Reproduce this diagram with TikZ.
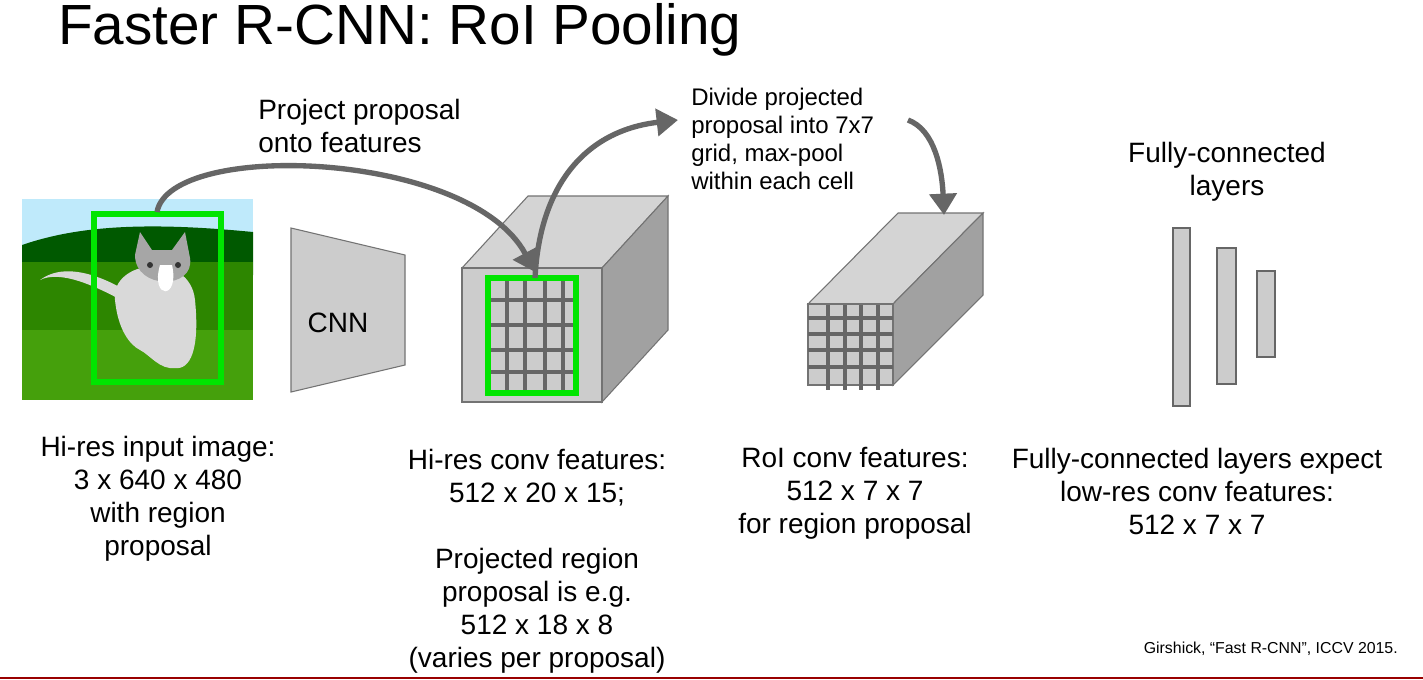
\documentclass[tikz,border=0pt]{standalone}
\usepackage{fontspec}
\setmainfont{Liberation Sans}
\usetikzlibrary{arrows.meta}
\begin{document}
\begin{tikzpicture}[x=0.75pt,y=-0.75pt,
  face/.style={draw=black!55,line width=0.8pt},
  arr/.style={draw=black!60,line width=4pt,-{Triangle[length=16pt,width=20pt]}},
  grid/.style={draw=black!60,line width=3pt},
  txt/.style={font=\fontsize{21}{24.7}\selectfont,align=center,inner sep=0pt},
  gbox/.style={draw=green!90!black,line width=4.5pt,inner sep=0pt},
  bar/.style={draw=black!60,fill=black!20,line width=0.8pt}]
\useasboundingbox (0,0) rectangle (1423,679);
\fill[white] (0,0) rectangle (1423,679);
\draw[red!60!black,line width=1pt] (0,678) -- (1423,678);
\node[anchor=west,inner sep=0pt,font=\fontsize{42.5}{48}\selectfont] (title) at (58,30) {Faster R-CNN: RoI Pooling};
% cat image
\fill[cyan!25!white] (22,199) rectangle (253,245);
\fill[green!35!black] (22,245) .. controls (80,225) and (150,222) .. (253,232) -- (253,275) -- (22,275) -- cycle;
\fill[green!50!olive!70!black] (22,262) rectangle (253,400);
\fill[green!40!olive!90!white,opacity=0.5] (22,330) rectangle (253,400);
\fill[black!15] (115,300) .. controls (110,260) and (190,250) .. (195,300) .. controls (200,350) and (190,370) .. (175,368) .. controls (160,370) and (150,355) .. (140,350) .. controls (130,345) and (118,330) .. (115,300) -- cycle;
\fill[black!15] (125,290) .. controls (90,270) and (60,265) .. (40,280) .. controls (60,270) and (95,285) .. (130,305) -- cycle;
\fill[black!35] (135,255) -- (140,232) -- (152,250) -- (172,250) -- (185,232) -- (190,258) .. controls (195,290) and (135,290) .. (135,255) -- cycle;
\fill[white] (160,265) .. controls (150,300) and (180,300) .. (172,265) -- cycle;
\fill[black!80] (150,265) circle (3) (178,265) circle (3);
\node[gbox,minimum width=95.25pt,minimum height=126pt] (img) at (157,297.5) {};
% CNN
\draw[face,fill=black!20] (291,228) -- (405,255) -- (405,365) -- (291,392) -- cycle;
\node[txt] (cnn) at (338,323) {CNN};
% big cube
\draw[face,fill=black!17] (462,268) -- (528,196) -- (668,196) -- (602,268) -- cycle;
\draw[face,fill=black!37] (602,268) -- (668,196) -- (668,330) -- (602,402) -- cycle;
\draw[face,fill=black!20] (462,268) rectangle (602,402);
\foreach \x in {507,525,545,563} \draw[grid] (\x,280) -- (\x,391);
\foreach \y in {300,325,350,372} \draw[grid] (490,\y) -- (574,\y);
\node[gbox,minimum width=66pt,minimum height=86.25pt] (proj) at (532,335.5) {};
% small cube
\draw[face,fill=black!17] (808,304) -- (898,213) -- (983,213) -- (893,304) -- cycle;
\draw[face,fill=black!37] (893,304) -- (983,213) -- (983,295) -- (893,385) -- cycle;
\draw[face,fill=black!20] (808,304) rectangle (893,385);
\foreach \x in {828,845,861,878} \draw[grid] (\x,305) -- (\x,390);
\foreach \y in {318,334,350,367} \draw[grid] (808,\y) -- (893,\y);
\coordinate (roitop) at (944,215);
% FC bars
\draw[bar] (1173,228) rectangle (1190,406);
\draw[bar] (1217,248) rectangle (1236,384);
\draw[bar] (1257,271) rectangle (1275,357);
% arrows
\coordinate (a1) at (157,212);
\draw[arr] (a1) .. controls (170,140) and (470,150) .. (535,272);
\coordinate (a2s) at (535,278);
\coordinate (a2e) at (678,120);
\draw[arr] (a2s) .. controls (540,180) and (590,130) .. (a2e);
\coordinate (a3s) at (908,120);
\draw[arr] (a3s) .. controls (935,130) and (942,170) .. (roitop);
% texts
\node[txt,align=left,anchor=north west] (t1) at (258,99) {Project proposal\\onto features};
\node[font=\fontsize{18}{21}\selectfont,align=left,anchor=north west,inner sep=0pt] (t2) at (691,88) {Divide projected\\proposal into 7x7\\grid, max-pool\\within each cell};
\node[txt,anchor=north] (t3) at (1227,142) {Fully-connected\\layers};
\node[txt,anchor=north] (l1) at (158,436) {Hi-res input image:\\3 x 640 x 480\\with region\\proposal};
\node[txt,anchor=north] (l2) at (537,449) {Hi-res conv features:\\512 x 20 x 15;\\[24.7pt]Projected region\\proposal is e.g.\\512 x 18 x 8\\(varies per proposal)};
\node[txt,anchor=north] (l3) at (855,447) {RoI conv features:\\512 x 7 x 7\\for region proposal};
\node[txt,anchor=north] (l4) at (1197,448) {Fully-connected layers expect\\low-res conv features:\\512 x 7 x 7};
\node[anchor=east,inner sep=0pt,font=\fontsize{11.9}{14}\selectfont] (ref) at (1398,649) {Girshick, “Fast R-CNN”, ICCV 2015.};
\end{tikzpicture}
\end{document}
